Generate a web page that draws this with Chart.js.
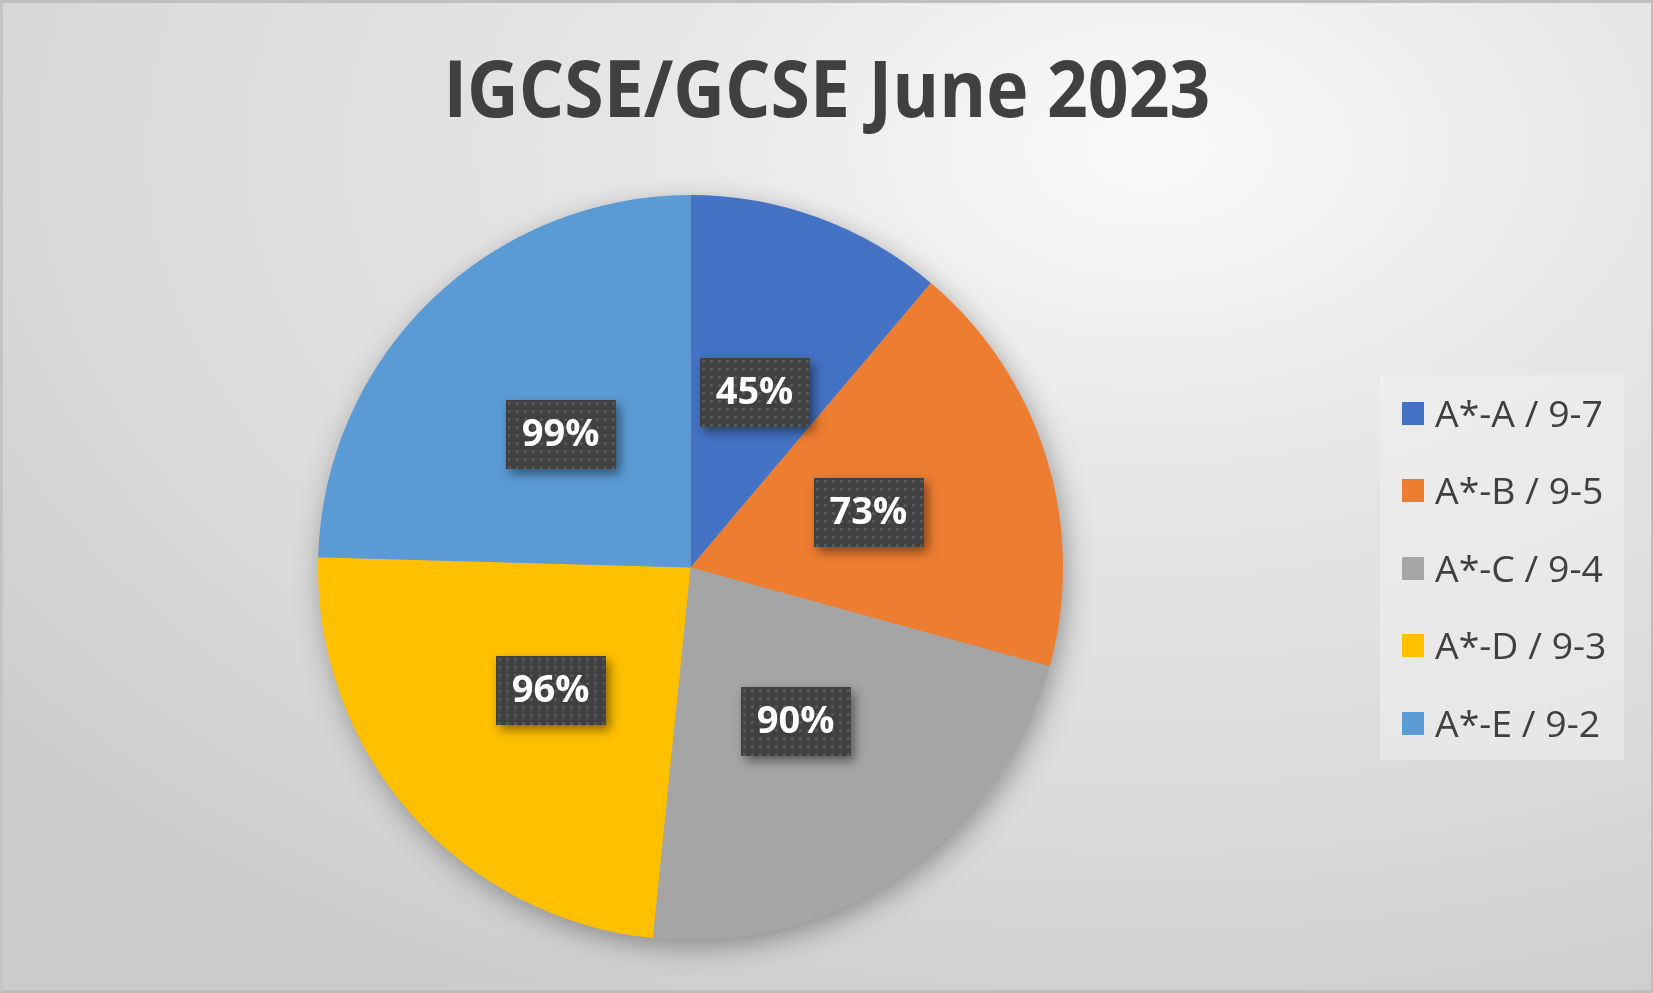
<!DOCTYPE html>
<html>
<head>
<meta charset="utf-8">
<script src="https://cdn.jsdelivr.net/npm/chart.js@4.4.1/dist/chart.umd.min.js"></script>
<style>
  html, body { margin: 0; padding: 0; }
  body { width: 1653px; height: 993px; overflow: hidden; position: relative;
    background: radial-gradient(ellipse 1500px 950px at 1150px 150px, #fafafa 0%, #e6e6e6 35%, #dadada 70%, #cccccc 100%);
    font-family: "Open Sans", sans-serif; }
  #frame { position: absolute; left: 0; top: 0; width: 1653px; height: 993px; border: 2px solid #bdbdbd; border-top: 3px solid #bfbfbf; border-left: 3px solid #c4c4c4; border-bottom: 3px solid #bdbdbd; box-sizing: border-box; pointer-events: none; }
  #wrap { position: absolute; left: 0; top: 0; width: 1653px; height: 993px; }
  #title { position: absolute; top: 39px; left: 0; width: 1653px; text-align: center; white-space: nowrap;
    font-weight: 700; font-size: 79px; color: #404040; line-height: 96px; }
  #title span { display: inline-block; transform-origin: center; }
  #legend { position: absolute; left: 1380px; top: 375px; width: 244px; height: 385px; background: rgba(240,240,240,0.55); }
  .li { position: absolute; left: 22px; height: 40px; display: flex; align-items: center; }
  .sw { width: 22px; height: 23px; margin-right: 11px; }
  .lt { font-size: 36px; color: #404040; white-space: nowrap; display: inline-block; transform-origin: left center; }
</style>
</head>
<body>
<div id="wrap"><canvas id="c" width="1653" height="993"></canvas></div>
<div id="title"><span id="tspan">IGCSE/GCSE June 2023</span></div>
<div id="legend"></div>
<div id="frame"></div>
<script>
const titleText = "IGCSE/GCSE June 2023";
const categories = ["A*-A / 9-7", "A*-B / 9-5", "A*-C / 9-4", "A*-D / 9-3", "A*-E / 9-2"];
const values = [45, 73, 90, 96, 99];
const colors = ["#4472C4", "#ED7D31", "#A5A5A5", "#FFC000", "#5B9BD5"];

// Title width fit
const tspan = document.getElementById('tspan');
tspan.textContent = titleText;
const tw = tspan.getBoundingClientRect().width;
tspan.style.transform = 'scaleX(' + (767 / tw) + ')';

// Legend
const legend = document.getElementById('legend');
categories.forEach((c, i) => {
  const d = document.createElement('div');
  d.className = 'li';
  d.style.top = (18 + i * 77.5) + 'px';
  const s = document.createElement('div'); s.className = 'sw'; s.style.background = colors[i];
  const t = document.createElement('span'); t.className = 'lt'; t.textContent = c;
  d.appendChild(s); d.appendChild(t); legend.appendChild(d);
});
const firstLt = document.querySelector('.lt');
const lscale = 168 / firstLt.getBoundingClientRect().width;
document.querySelectorAll('.lt').forEach(el => { el.style.transform = 'scaleX(' + lscale + ')'; });

// Dotted pattern for label boxes
function makePattern(ctx) {
  const p = document.createElement('canvas'); p.width = 8; p.height = 8;
  const pc = p.getContext('2d');
  pc.fillStyle = '#404040'; pc.fillRect(0, 0, 8, 8);
  pc.fillStyle = '#565656'; pc.fillRect(2, 2, 3, 3);
  return ctx.createPattern(p, 'repeat');
}

const shadowPlugin = {
  id: 'pieShadow',
  beforeDatasetsDraw(chart) {
    const arc = chart.getDatasetMeta(0).data[0];
    if (!arc) return;
    const { x, y, outerRadius } = arc.getProps(['x', 'y', 'outerRadius'], true);
    const ctx = chart.ctx;
    ctx.save();
    ctx.shadowColor = 'rgba(0,0,0,0.35)';
    ctx.shadowBlur = 28;
    ctx.shadowOffsetX = 4;
    ctx.shadowOffsetY = 8;
    ctx.beginPath();
    ctx.arc(x, y, outerRadius - 1, 0, Math.PI * 2);
    ctx.fillStyle = '#aaaaaa';
    ctx.fill();
    ctx.restore();
  }
};

const labelPlugin = {
  id: 'boxLabels',
  afterDatasetsDraw(chart) {
    const ctx = chart.ctx;
    const meta = chart.getDatasetMeta(0);
    const pattern = makePattern(ctx);
    ctx.save();
    ctx.font = '700 38px "Open Sans"';
    ctx.textAlign = 'center';
    ctx.textBaseline = 'middle';
    meta.data.forEach((arc, i) => {
      const p = arc.getProps(['x', 'y', 'startAngle', 'endAngle', 'outerRadius'], true);
      const mid = (p.startAngle + p.endAngle) / 2;
      const r = p.outerRadius * 0.5;
      const cx = p.x + Math.cos(mid) * r;
      const cy = p.y + Math.sin(mid) * r;
      const txt = values[i] + '%';
      const w = ctx.measureText(txt).width + 32;
      const h = 69;
      const bx = Math.round(cx - w / 2), by = Math.round(cy - h / 2);
      ctx.save();
      ctx.shadowColor = 'rgba(0,0,0,0.45)';
      ctx.shadowBlur = 10;
      ctx.shadowOffsetX = 4;
      ctx.shadowOffsetY = 5;
      ctx.fillStyle = '#404040';
      ctx.fillRect(bx, by, w, h);
      ctx.restore();
      ctx.save();
      ctx.translate(bx, by);
      ctx.fillStyle = pattern;
      ctx.fillRect(0, 0, w, h);
      ctx.restore();
      ctx.fillStyle = '#ffffff';
      ctx.fillText(txt, cx, cy + 1);
    });
    ctx.restore();
  }
};

new Chart(document.getElementById('c'), {
  type: 'pie',
  data: {
    labels: categories,
    datasets: [{ data: values, backgroundColor: colors, borderWidth: 0, hoverOffset: 0, offset: 0 }]
  },
  options: {
    responsive: false,
    animation: false,
    layout: { padding: { left: 318, right: 590, top: 195, bottom: 53 } },
    plugins: { legend: { display: false }, title: { display: false }, tooltip: { enabled: false } }
  },
  plugins: [shadowPlugin, labelPlugin]
});
</script>
</body>
</html>
